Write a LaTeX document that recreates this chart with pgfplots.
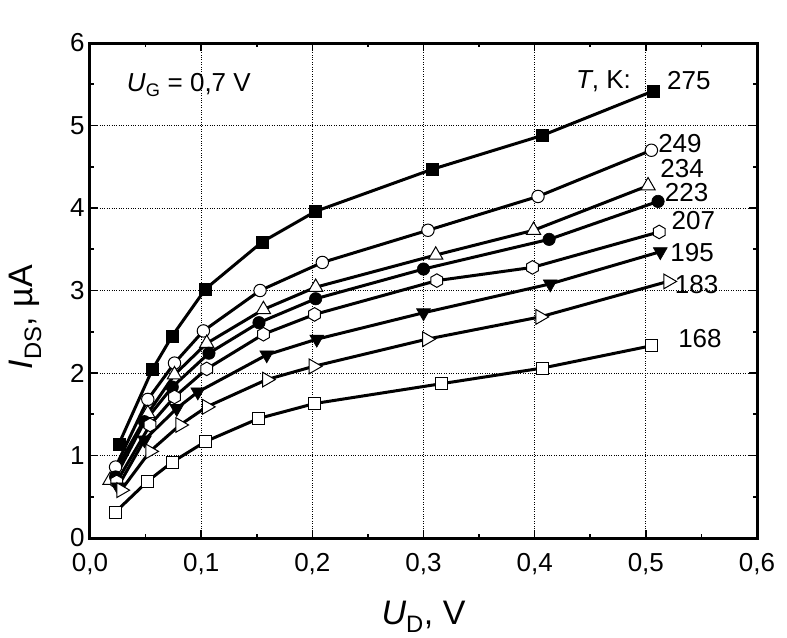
\documentclass[border=0pt]{standalone}
\usepackage{fontspec}
\setmainfont{Liberation Sans}
\usepackage{pgfplots}
\pgfplotsset{compat=1.18}
\pgfdeclareplotmark{hexagon}{%
  \pgfpathmoveto{\pgfqpointpolar{90}{\pgfplotmarksize}}%
  \pgfpathlineto{\pgfqpointpolar{150}{\pgfplotmarksize}}%
  \pgfpathlineto{\pgfqpointpolar{210}{\pgfplotmarksize}}%
  \pgfpathlineto{\pgfqpointpolar{270}{\pgfplotmarksize}}%
  \pgfpathlineto{\pgfqpointpolar{330}{\pgfplotmarksize}}%
  \pgfpathlineto{\pgfqpointpolar{30}{\pgfplotmarksize}}%
  \pgfpathclose
  \pgfusepathqfillstroke}
\begin{document}
\begin{tikzpicture}
\useasboundingbox (-90bp,-100bp) rectangle (697bp,538bp);
\begin{axis}[
  at={(0,0)}, anchor=south west,
  scale only axis, width=667bp, height=495bp,
  xmin=0, xmax=0.6, ymin=0, ymax=6,
  xtick={0,0.1,0.2,0.3,0.4,0.5,0.6},
  ytick={0,1,2,3,4,5,6},
  minor x tick num=1, minor y tick num=1,
  tick align=inside,
  major tick length=8bp, minor tick length=4bp,
  every tick/.style={black, line width=1.6bp},
  axis line style={line width=3bp},
  grid=major,
  major grid style={dotted, black, line width=0.9bp},
  /pgf/number format/assume math mode=true,
  ticklabel style={font=\fontsize{26bp}{31bp}\selectfont},
  xticklabel style={yshift=-12bp, /pgf/number format/.cd, fixed, fixed zerofill, precision=1, use comma},
  yticklabel style={xshift=-2bp, /pgf/number format/.cd, fixed, precision=0},
  xlabel={\textit{U}\textsubscript{D}, V},
  ylabel={\textit{I}\textsubscript{DS}, µA},
  label style={font=\fontsize{34bp}{40bp}\selectfont},
  xlabel style={at={(axis description cs:0.5,-0.175)}, anchor=base},
  ylabel style={at={(axis description cs:-0.0855,0.446)}, anchor=base},
  every axis plot/.append style={line width=3bp, black},
]
% 275 K
\addplot[mark=square*, mark size=6bp, mark options={fill=black, line width=0.6bp}]
  coordinates {(0.026,1.14) (0.056,2.04) (0.074,2.45) (0.104,3.02) (0.155,3.59) (0.203,3.96) (0.308,4.47) (0.407,4.88) (0.507,5.42)};
% 249 K
\addplot[mark=*, mark size=6.2bp, mark options={fill=white, line width=1bp}]
  coordinates {(0.023,0.86) (0.052,1.68) (0.076,2.12) (0.102,2.51) (0.153,3.00) (0.209,3.34) (0.304,3.73) (0.403,4.14) (0.505,4.70)};
% 234 K
\addplot[mark=triangle*, mark size=8.2bp, mark options={fill=white, line width=1bp}]
  coordinates {(0.018,0.70) (0.052,1.51) (0.076,1.98) (0.105,2.36) (0.156,2.77) (0.203,3.04) (0.311,3.43) (0.399,3.73) (0.502,4.27)};
% 223 K
\addplot[mark=*, mark size=6.2bp, mark options={fill=black, line width=0.6bp}]
  coordinates {(0.023,0.74) (0.049,1.41) (0.074,1.83) (0.107,2.24) (0.152,2.61) (0.203,2.90) (0.300,3.26) (0.413,3.62) (0.511,4.08)};
% 207 K
\addplot[mark=hexagon, mark size=6.8bp, mark options={fill=white, line width=1bp}]
  coordinates {(0.024,0.68) (0.054,1.37) (0.076,1.71) (0.105,2.05) (0.156,2.47) (0.202,2.71) (0.312,3.12) (0.398,3.28) (0.512,3.71)};
% 195 K
\addplot[mark=triangle*, mark size=8bp, mark options={fill=black, line width=0.6bp, rotate=180}]
  coordinates {(0.025,0.62) (0.049,1.19) (0.078,1.57) (0.097,1.77) (0.159,2.22) (0.204,2.41) (0.300,2.73) (0.414,3.08) (0.513,3.47)};
% 183 K
\addplot[mark=triangle*, mark size=8.5bp, mark options={fill=white, line width=1bp, rotate=-90}]
  coordinates {(0.028,0.58) (0.054,1.05) (0.081,1.37) (0.105,1.59) (0.159,1.92) (0.201,2.08) (0.303,2.41) (0.405,2.68) (0.520,3.11)};
% 168 K
\addplot[mark=square*, mark size=6bp, mark options={fill=white, line width=1bp}]
  coordinates {(0.0225,0.31) (0.052,0.69) (0.074,0.92) (0.104,1.17) (0.152,1.45) (0.202,1.63) (0.316,1.87) (0.407,2.06) (0.505,2.33)};

\begin{scope}[every node/.style={font=\fontsize{26bp}{31bp}\selectfont, inner sep=0pt, anchor=west}]
\node at (axis cs:0.519,5.54) {275};
\node at (axis cs:0.511,4.78) {249};
\node at (axis cs:0.513,4.48) {234};
\node at (axis cs:0.517,4.19) {223};
\node at (axis cs:0.523,3.85) {207};
\node at (axis cs:0.522,3.46) {195};
\node at (axis cs:0.526,3.07) {183};
\node at (axis cs:0.529,2.42) {168};
\node at (axis cs:0.437,5.54) {\textit{T}, K:};
\node at (axis cs:0.033,5.49) {\textit{U}\textsubscript{G} = 0,7 V};
\end{scope}
\end{axis}
\end{tikzpicture}
\end{document}
